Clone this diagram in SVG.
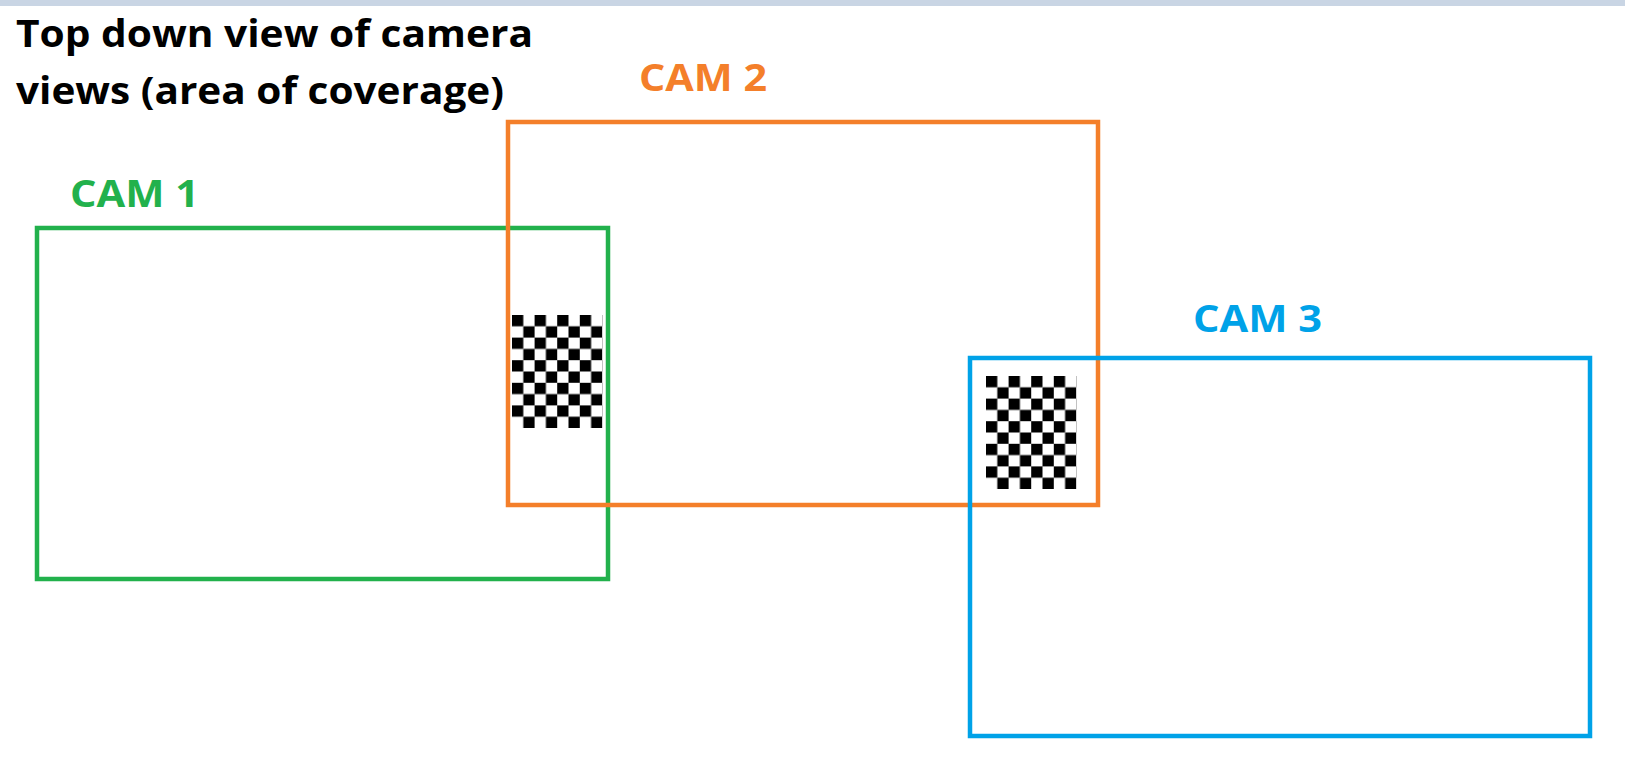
<svg xmlns="http://www.w3.org/2000/svg" width="1625" height="775" viewBox="0 0 1625 775">
<style>
.t{font-family:"Open Sans","Liberation Sans",sans-serif;font-weight:bold;font-size:38px}
.box{fill:none;stroke-width:4.5}
</style>
<defs>
<pattern id="chk" patternUnits="userSpaceOnUse" width="22.6" height="22.6">
<rect width="22.6" height="22.6" fill="#fff"/>
<rect width="11.3" height="11.3" fill="#000"/>
<rect x="11.3" y="11.3" width="11.3" height="11.3" fill="#000"/>
</pattern>
</defs>
<rect width="1625" height="775" fill="#fff"/>
<rect x="0" y="0" width="1625" height="6" fill="#c9d5e4"/>
<text class="t" x="16" y="47" textLength="517" lengthAdjust="spacingAndGlyphs">Top down view of camera</text>
<text class="t" x="16" y="104" textLength="488" lengthAdjust="spacingAndGlyphs">views (area of coverage)</text>
<g id="cam1">
<rect class="box" x="37" y="228" width="571" height="351" stroke="#22b14c"/>
<text class="t" x="70" y="207" fill="#22b14c" textLength="129" lengthAdjust="spacingAndGlyphs">CAM 1</text>
</g>
<g id="cam2">
<rect class="box" x="508" y="122" width="590" height="383" stroke="#f47f2a"/>
<text class="t" x="639" y="91" fill="#f47f2a" textLength="128" lengthAdjust="spacingAndGlyphs">CAM 2</text>
</g>
<g id="cam3">
<rect class="box" x="970" y="358" width="620" height="378" stroke="#00a2e8"/>
<text class="t" x="1193" y="332" fill="#00a2e8" textLength="129" lengthAdjust="spacingAndGlyphs">CAM 3</text>
</g>
<g id="board1" transform="translate(512,315)">
<rect width="90.4" height="113" fill="url(#chk)"/>
</g>
<g id="board2" transform="translate(986,376)">
<rect width="90.4" height="113" fill="url(#chk)"/>
</g>
<g id="connectors"/>
</svg>
